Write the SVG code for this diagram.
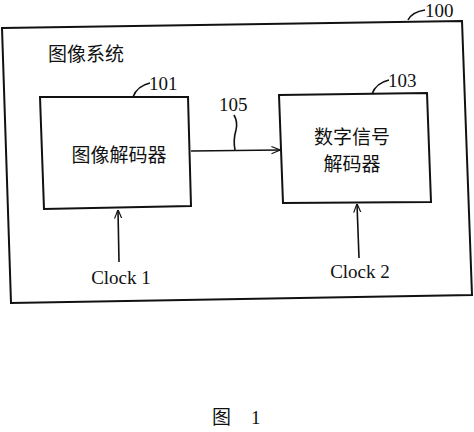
<svg xmlns="http://www.w3.org/2000/svg" width="474" height="432" viewBox="0 0 474 432">
<style>
.ln{fill:none;stroke:#111;stroke-width:1.6}
.bx{fill:#fff;stroke:#111;stroke-width:2}
.num{font-family:"Liberation Serif",serif;font-size:19px;fill:#111}
.cjk{font-family:"Noto Sans CJK SC",sans-serif;font-size:19px;fill:#111}
</style>
<defs>
<marker id="ah" viewBox="0 0 10 10" refX="9.5" refY="5" markerWidth="9" markerHeight="9" orient="auto" markerUnits="userSpaceOnUse">
<path d="M0,1 L10,5 L0,9" fill="none" stroke="#111" stroke-width="1.3"/>
</marker>
</defs>
<rect width="474" height="432" fill="#fff"/>
<g id="n100">
<polygon class="bx" points="2,28 462,21 472,295 11,303"/>
<path class="ln" d="M408,20 Q412,12 425,10"/>
<text class="num" x="425" y="17">100</text>
<text class="cjk" x="48" y="61">图像系统</text>
</g>
<g id="n101">
<polygon class="bx" points="40,97 188,97 191,206 44,209"/>
<path class="ln" d="M133,97 Q137,86 150,83"/>
<text class="num" x="149" y="90">101</text>
<text class="cjk" x="119" y="162" text-anchor="middle">图像解码器</text>
</g>
<g id="n103">
<polygon class="bx" points="279,95 427,93 431,202 283,203"/>
<path class="ln" d="M372,94 Q376,83 389,80"/>
<text class="num" x="388" y="87">103</text>
<text class="cjk" x="352" y="144" text-anchor="middle" font-size="18">数字信号</text>
<text class="cjk" x="352" y="171" text-anchor="middle" font-size="18">解码器</text>
</g>
<g id="connectors">
<line class="ln" x1="191" y1="151" x2="280" y2="150" marker-end="url(#ah)"/>
<path class="ln" d="M234,115 Q238,122 236,130 Q233,140 235,150"/>
<text class="num" x="219" y="111">105</text>
<line class="ln" x1="119" y1="262" x2="118" y2="210" marker-end="url(#ah)"/>
<line class="ln" x1="359" y1="258" x2="357" y2="204" marker-end="url(#ah)"/>
</g>
<g id="clocks">
<text class="num" x="121" y="284" text-anchor="middle">Clock 1</text>
<text class="num" x="360" y="278" text-anchor="middle">Clock 2</text>
</g>
<g id="caption">
<text class="cjk" x="212" y="424" font-size="21">图</text>
<text class="num" x="251" y="424" font-size="22">1</text>
</g>
</svg>
